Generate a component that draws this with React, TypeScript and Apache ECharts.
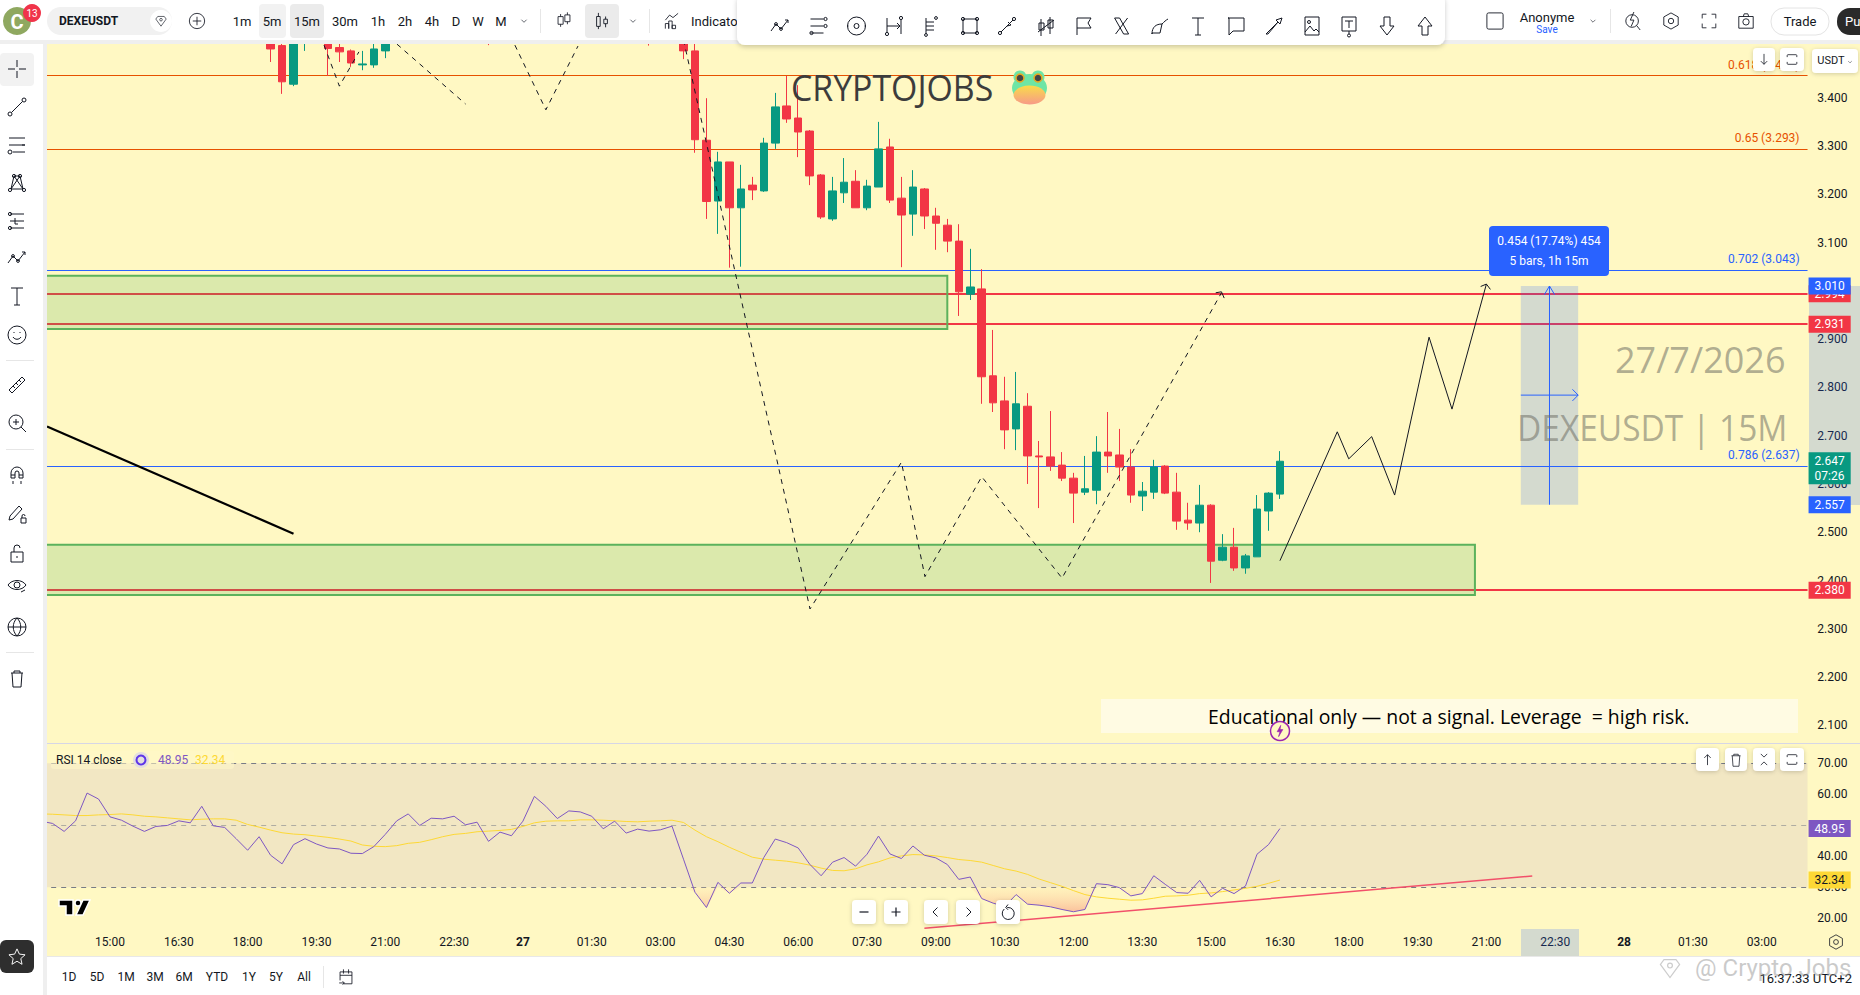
import React, { useEffect, useRef } from "react";
import * as echarts from "echarts";

// ---------- data ----------
const timeTicks = ["15:00","16:30","18:00","19:30","21:00","22:30","27","01:30","03:00","04:30","06:00","07:30","09:00","10:30","12:00","13:30","15:00","16:30","18:00","19:30","21:00","22:30","28","01:30","03:00"];
const yTicks = [3.4,3.3,3.2,3.1,2.9,2.8,2.7,2.6,2.5,2.4,2.3,2.2,2.1];
const rsiTicks = [70,60,40,30,20];

const barIdx = [14,15,16,17,19,20,21,22,23,24,33,47,50,51,52,53,54,55,56,57,58,59,60,61,62,63,64,65,66,67,68,69,70,71,72,73,74,75,76,77,78,79,80,81,82,83,84,85,86,87,88,89,90,91,92,93,94,95,96,97,98,99,100,101,102];
const opens = [3.55,3.508,3.428,3.53,3.54,3.504,3.497,3.468,3.468,3.497,3.55,3.55,3.55,3.497,3.312,3.186,3.267,3.172,3.219,3.207,3.306,3.383,3.358,3.331,3.24,3.149,3.203,3.227,3.172,3.215,3.298,3.192,3.159,3.211,3.155,3.136,3.103,2.993,3.004,2.824,2.772,2.714,2.761,2.658,2.656,2.639,2.612,2.583,2.587,2.666,2.66,2.635,2.575,2.583,2.637,2.583,2.525,2.519,2.556,2.442,2.469,2.426,2.449,2.544,2.579];
const closes = [3.501,3.433,3.52,3.56,3.502,3.495,3.472,3.47,3.501,3.53,3.53,3.53,3.497,3.313,3.185,3.267,3.172,3.211,3.209,3.306,3.381,3.356,3.329,3.238,3.153,3.207,3.225,3.172,3.217,3.294,3.188,3.157,3.215,3.155,3.14,3.103,2.998,3.008,2.822,2.768,2.712,2.766,2.658,2.656,2.637,2.612,2.581,2.59,2.666,2.658,2.635,2.577,2.585,2.635,2.581,2.523,2.519,2.556,2.44,2.469,2.426,2.451,2.548,2.581,2.647];
const lows = [3.474,3.408,3.424,3.497,3.445,3.474,3.464,3.457,3.462,3.482,3.509,3.508,3.48,3.286,3.149,3.118,3.048,3.05,3.188,3.205,3.294,3.348,3.277,3.219,3.149,3.145,3.182,3.172,3.167,3.215,3.182,3.049,3.114,3.128,3.085,3.08,2.948,2.981,2.766,2.749,2.672,2.67,2.6,2.55,2.627,2.606,2.519,2.577,2.558,2.623,2.606,2.561,2.544,2.569,2.579,2.505,2.505,2.5,2.395,2.44,2.42,2.414,2.449,2.503,2.569];
const highs = [3.58,3.56,3.56,3.58,3.56,3.53,3.5,3.497,3.54,3.55,3.57,3.57,3.56,3.55,3.399,3.288,3.267,3.261,3.236,3.317,3.41,3.445,3.426,3.333,3.242,3.236,3.275,3.25,3.23,3.35,3.315,3.236,3.25,3.213,3.172,3.149,3.138,3.087,3.045,2.919,2.822,2.832,2.788,2.689,2.751,2.666,2.623,2.658,2.699,2.749,2.714,2.672,2.604,2.65,2.639,2.623,2.561,2.598,2.558,2.496,2.509,2.455,2.577,2.583,2.668];

const rsiValues = [51.33,50.59,48.03,51.44,60.4,58.48,52.72,51.65,49.73,48.03,49.63,49.95,51.44,50.8,56.13,49.84,49.31,45.68,41.95,46.32,40.35,37.57,43.76,45.68,43.97,42.69,42.37,40.99,40.88,43.12,47.07,51.44,53.68,49.95,52.29,52.08,52.93,50.16,51.01,44.83,47.81,46.64,51.33,59.33,56.13,52.19,54.64,54.32,52.93,48.88,51.33,47.49,48.77,48.13,48.56,49.73,39.07,28.4,23.49,31.6,28.08,31.39,31.39,39.6,45.57,44.4,42.69,37.47,33.73,38.11,39.6,36.83,40.67,46.53,40.77,39.28,43.33,40.35,39.49,37.36,32.56,33.31,26.37,24.88,23.81,27.65,24.56,24.24,23.71,22.85,22.11,22.85,31.17,30.85,29.89,27.23,27.97,33.73,30.96,28.29,28.08,32.24,26.91,29.68,27.97,30.43,40.67,43.76,48.95];
const rsiSma = [53.68,53.57,53.36,53.15,53.15,53.36,53.47,53.68,53.36,52.93,52.72,52.4,52.08,51.76,51.97,52.08,52.08,51.65,50.27,49.41,48.45,47.6,47.17,46.96,46.53,46.11,45.57,44.93,43.65,43.23,43.12,43.44,44.19,44.51,45.36,46.32,47.07,47.39,47.92,48.13,48.35,48.67,49.63,50.8,51.33,51.44,51.44,51.76,51.76,51.65,51.44,51.23,51.12,51.33,51.44,51.65,50.91,48.45,46.32,44.72,42.91,41.31,39.71,39.07,38.75,38.43,37.89,37.15,36.19,35.44,35.33,35.97,37.25,38.21,39.49,40.13,40.56,40.45,40.13,39.6,38.96,38.64,38.11,37.04,35.97,35.23,34.16,32.67,31.49,30.32,28.93,27.65,26.91,26.48,26.16,25.84,25.95,26.48,27.12,27.23,27.44,27.97,28.19,28.61,29.15,29.68,30.32,31.28,32.34];

// drawings: [bar, price]
const dashA = [[18.66,3.509],[20,3.424],[21.7,3.495]];
const dashB = [[25.02,3.511],[31,3.387]];
const dashC = [[35.3,3.509],[38,3.375],[40.8,3.507]];
const dashMain = [[50,3.52],[61.03,2.341],[69,2.645],[71.05,2.408],[76,2.615],[83,2.405],[96.9,2.996]];
const dashHead = [[96.4,2.996],[96.9,2.998],[97.14,2.985]];
const solidPath = [[102,2.441],[107,2.708],[108,2.652],[110,2.698],[112,2.577],[115,2.904],[117,2.755],[120,3.014]];
const solidHead = [[119.5,3.009],[120,3.014],[120.35,3.003]];
const thickLine = [[-5.49,2.719],[16,2.497]];
const rsiTrend = [[77,16.77],[130,33.65]];
const fibLevels = [
  { text: "0.618 (3.446)", price: 3.446, color: "#E65100" },
  { text: "0.65 (3.293)", price: 3.293, color: "#E65100" },
  { text: "0.702 (3.043)", price: 3.043, color: "#2962FF" },
  { text: "0.786 (2.637)", price: 2.637, color: "#2962FF" },
];
const redLevels = [2.994, 2.931, 2.38];
const zones = [
  { x1: 73, top: 3.031, bottom: 2.921 },
  { x1: 119, top: 2.474, bottom: 2.37 },
];
const measure = { x0: 123, x1: 128, mid: 125.5, top: 3.01, bottom: 2.557, arrowY: 2.784 };

// ---------- layout ----------
const BARPX = 11.47;
const NCAT = 155;
const GRID_L = 110 - 6.5 * BARPX;
const GRID_W = NCAT * BARPX;
const FONT = "Roboto, sans-serif";
const X0 = -5.49;
const X1 = 148;

const categories: string[] = Array.from({ length: NCAT }, (_, i) => {
  const bar = i - 6;
  return bar >= 0 && bar % 6 === 0 && timeTicks[bar / 6] ? timeTicks[bar / 6] : "";
});

const circ = (x: number, y: number, r: number) =>
  `M${x - r} ${y}a${r} ${r} 0 1 0 ${2 * r} 0a${r} ${r} 0 1 0 ${-2 * r} 0`;

const ICONS: Record<string, string> = {
  cross: "M12 3v7M12 14v7M3 12h7M14 12h7",
  trend: "M6.5 17.5L17.5 6.5" + circ(5, 19, 2) + circ(19, 5, 2),
  lines: "M4 5h16M4 12h16M8 19h12M17 12h3" + circ(5, 19, 2),
  web: "M6 18L9 5L15 5L18 18M9 5L18 18M15 5L6 18M6 18H18" + circ(5, 19, 1.6) + circ(19, 19, 1.6) + circ(9, 5, 1.6) + circ(15, 5, 1.6),
  pitch: "M5 5h14M5 12h14M5 19h14M10 9v6h3" + circ(5, 5, 1.6) + circ(5, 19, 1.6),
  wave: "M3 17L8 10L13 15L20 6M17 6h3v3" + circ(8, 10, 1.4) + circ(13, 15, 1.4),
  text: "M12 4v17M6 4h12M9 21h6",
  smile: circ(12, 12, 9) + "M8 14c2 3 6 3 8 0M9 9v1M15 9v1",
  ruler: "M4 17L17 4L20 7L7 20ZM8 13l2 2M11 10l2 2M14 7l2 2",
  zoomi: circ(11, 11, 7) + "M16 16l5 5M11 8v6M8 11h6",
  magnet: "M6 15V10a6 6 0 0 1 12 0v5h-4V10a2 2 0 0 0-4 0v5ZM6 12h4M14 12h4M8 18v3M16 18v3",
  pencil: "M5 15L14 5L17 8L8 18L4 19ZM16 17h5v5h-5ZM17 17v-2a1.5 1.5 0 0 1 3 0",
  lock: "M6 11h12v10H6ZM9 11V7a3 3 0 0 1 6 0M12 15v2",
  eye: "M3 12c4-6 14-6 18 0c-4 6-14 6-18 0Z" + circ(12, 12, 3) + "M16 19l4-2",
  globe: circ(12, 12, 9) + "M3 12h18M12 3c-5 5-5 13 0 18M12 3c5 5 5 13 0 18",
  trash: "M6 7h12M9 7V5h6v2M7 7l1 14h8l1-14",
  star: "M12 4l2.5 5.5l6 .7l-4.5 4l1.3 6L12 17l-5.3 3.2l1.3-6l-4.5-4l6-.7Z",
  plusc: circ(12, 12, 9) + "M12 7v10M7 12h10",
  diamond: "M7 5h10l3 4l-8 11L4 9Z" + circ(12, 10, 2),
  candle1: "M8 5v3M8 17v3M5 8h6v9H5ZM16 3v3M16 14v3M13 6h6v8h-6Z",
  candle2: "M8 3v4M8 18v3M6 7h4v11H6ZM16 7v3M16 15v4M14 10h4v5h-4Z",
  bars: "M3 21v-6h4v6M7 21v-9h4v9M11 21v-4h4v4ZM3 11L8 5L12 8L18 3",
  chev: "M8 10l4 4l4-4",
  fibx: "M4 18L9 8L13 14L20 5" + circ(9, 8, 1.5) + circ(13, 14, 1.5),
  hl3: "M4 5h13M4 12h13M4 19h13" + circ(19, 5, 1.6) + circ(19, 12, 1.6) + circ(5, 19, 1.6),
  ring: circ(12, 12, 9) + circ(12, 12, 2.5) + "M3 12h1M20 12h1",
  meas: "M5 4v14M5 12h13M15 9l3 3l-3 3M19 6v14" + circ(5, 20, 1.6) + circ(19, 4, 1.6),
  fork: "M6 4v16M6 8h8M6 12h8M6 16h8" + circ(6, 21, 1.4) + circ(16, 4, 1.4),
  rect: "M5 5h14v14H5Z" + circ(5, 5, 1.6) + circ(19, 5, 1.6) + circ(5, 19, 1.6) + circ(19, 19, 1.6),
  brush: "M6 18L18 6" + circ(5, 19, 1.6) + circ(19, 5, 1.6) + "M12 12l4-1l-3-3",
  pattern: "M5 9h5v7H5ZM14 6h5v8h-5ZM7 5v17M16 3v17M4 18L20 6",
  flag: "M5 21V4h14l-3 5l3 5H5",
  xlogo: "M5 4h5l9 16h-5ZM18 4L6 20",
  leaf: "M4 20c0-7 4-10 10-10l-2 9H4ZM14 10c2-2 4-4 6-5",
  bubble: "M4 4h16v13H9l-4 4V4Z",
  arrowp: "M4 20L16 8l-2-2l6-2l-2 6l-2-2L6 20Z",
  picture: "M5 3h14v18H5ZM5 18l5-6l4 5l2-2l3 3" + circ(9, 8, 1.5),
  note: "M5 3h14v14H5ZM8 7h8M12 7v7M12 17v3" + circ(12, 21.5, 1.5),
  down: "M9 3h6v9h4l-7 9l-7-9h4Z",
  up: "M9 21h6v-9h4l-7-9l-7 9h4Z",
  flash: circ(11, 12, 7) + "M13 2l-4 9h4l-3 7M16 17l4 5",
  hexs: "M12 3l8 4.5v9L12 21l-8-4.5v-9Z" + circ(12, 12, 3),
  full: "M4 9V4h5M15 4h5v5M20 15v5h-5M9 20H4v-5",
  camera: "M4 7h16v13H4ZM9 7l1-3h4l1 3" + circ(12, 13, 3.5),
  checkbox: "M5 3h14a2 2 0 0 1 2 2v14a2 2 0 0 1-2 2H5a2 2 0 0 1-2-2V5a2 2 0 0 1 2-2Z",
  arrdown: "M12 5v13M8 14l4 4l4-4",
  arrup: "M12 19V6M8 10l4-4l4 4",
  square: "M6 9V7a1 1 0 0 1 1-1h10a1 1 0 0 1 1 1v2M6 15v2a1 1 0 0 0 1 1h10a1 1 0 0 0 1-1v-2",
  collapse: "M8 5l4 4l4-4M8 19l4-4l4 4",
  left: "M14 6l-6 6l6 6",
  right: "M10 6l6 6l-6 6",
  reset: "M7 8a8 8 0 1 0 5-2h-1M12 2L9 6l3 3",
  minus: "M6 12h12",
  plus: "M12 6v12M6 12h12",
  bolt: "M13 4l-5 9h4l-2 7l6-10h-4Z",
  calendar: "M5 6h14v14H9M5 6v10M5 10h14M9 3v5M15 3v5M4 19h6M8 17l2 2l-2 2",
  tvlogo: "M0 0H14V15H7V6H0Z" + circ(19, 3, 3) + "M24 0H31L24 15H17Z",
};
Object.keys(ICONS).forEach((k) => {
  echarts.graphic.registerShape("ic_" + k, echarts.graphic.extendPath(ICONS[k], {}) as any);
});

const icon = (name: string, cx: number, cy: number, s = 1, stroke = "#131722", fill = "none", z = 120, lw = 1) => ({
  type: "ic_" + name,
  x: cx - 12 * s,
  y: cy - 12 * s,
  scaleX: s,
  scaleY: s,
  z,
  silent: true,
  style: { stroke, fill, lineWidth: lw },
});
const txt = (text: string, x: number, y: number, size = 12, fill = "#131722", align = "center", weight = "normal", z = 120, family = FONT, scaleX = 1) => ({
  type: "text",
  x,
  y,
  z,
  scaleX,
  silent: true,
  style: { text, fill, fontSize: size, fontWeight: weight, fontFamily: family, textAlign: align, textVerticalAlign: "middle" },
});
const box = (x: number, y: number, w: number, h: number, fill: string, r = 0, z = 100, extra: any = {}) => ({
  type: "rect",
  z,
  silent: true,
  shape: { x, y, width: w, height: h, r },
  style: { fill, ...extra },
});
const btn = (x0: number, x1: number, y0: number, y1: number, z = 110) =>
  box(x0, y0, x1 - x0, y1 - y0, "#ffffff", 4, z, { shadowBlur: 4, shadowColor: "rgba(0,0,0,0.18)", shadowOffsetY: 1 });

// horizontal levels & tags
const tagLabel = (text: string, bg: string, color = "#ffffff", extra: any = {}) => ({
  show: true,
  position: "end",
  distance: 1,
  formatter: text,
  color,
  backgroundColor: bg,
  fontFamily: FONT,
  fontSize: 12,
  padding: [2, 6],
  lineHeight: 13,
  align: "left",
  ...extra,
});
const hLine = (price: number, color: string, width: number, z: number, label: any = { show: false }, xa = 1, ya = 0, x0 = X0, x1 = X1, hidden = false) => ({
  type: "line",
  xAxisIndex: xa,
  yAxisIndex: ya,
  data: [],
  silent: true,
  markLine: {
    silent: true,
    symbol: "none",
    z,
    animation: false,
    label,
    emphasis: { disabled: true },
    lineStyle: { color: hidden ? "rgba(0,0,0,0)" : color, width: hidden ? 1 : width, type: "solid" },
    data: [[{ coord: [x0, price] }, { coord: [x1, price] }]],
  },
});
const drawing = (data: number[][], color = "#131722", width = 1, dashed = false, z = 6) => ({
  type: "line",
  xAxisIndex: 1,
  yAxisIndex: 0,
  data,
  z,
  silent: true,
  symbol: "none",
  clip: true,
  lineStyle: { color, width, type: dashed ? [5, 5] : "solid" },
});

function buildOption(): any {
  const candles = barIdx.map((b, i) => [b + 6, opens[i], closes[i], lows[i], highs[i]]);
  const rsiClamped = rsiValues.map((v) => Math.min(v, 30));

  const series: any[] = [
    ...fibLevels.map((f) =>
      hLine(f.price, f.color, 1, 2, {
        show: true,
        position: "insideEndTop",
        distance: [8, 5],
        formatter: f.text,
        color: f.color,
        fontFamily: FONT,
        fontSize: 12,
      })
    ),
    ...redLevels.map((p) => hLine(p, "#F23645", 2, 2, tagLabel(p.toFixed(3), "#F23645"))),
    {
      type: "line",
      xAxisIndex: 1,
      yAxisIndex: 0,
      data: [],
      silent: true,
      markArea: {
        silent: true,
        z: 3,
        animation: false,
        itemStyle: { color: "rgba(76,175,80,0.2)", borderColor: "#5CB25C", borderWidth: 2 },
        data: zones.map((zn) => [{ coord: [-9, zn.top] }, { coord: [zn.x1, zn.bottom] }]),
      },
    },
    {
      type: "line",
      xAxisIndex: 1,
      yAxisIndex: 0,
      data: [],
      silent: true,
      markArea: {
        silent: true,
        z: 3,
        animation: false,
        itemStyle: { color: "rgba(41,98,255,0.2)" },
        data: [[{ coord: [measure.x0, measure.top] }, { coord: [measure.x1, measure.bottom] }]],
      },
    },
    {
      type: "candlestick",
      xAxisIndex: 0,
      yAxisIndex: 0,
      z: 4,
      silent: true,
      clip: true,
      barWidth: 8,
      data: candles,
      encode: { x: 0, y: [1, 2, 3, 4] },
      itemStyle: { color: "#089981", color0: "#F23645", borderColor: "#089981", borderColor0: "#F23645", borderWidth: 1 },
    },
    drawing(dashA, "#131722", 1, true),
    drawing(dashB, "#131722", 1, true),
    drawing(dashC, "#131722", 1, true),
    drawing(dashMain, "#131722", 1, true),
    drawing(dashHead, "#131722", 1),
    drawing(solidPath, "#131722", 1),
    drawing(solidHead, "#131722", 1),
    drawing(thickLine, "#000000", 2.2),
    drawing([[measure.mid, measure.bottom], [measure.mid, measure.top]], "#2962FF", 1),
    drawing([[measure.mid - 0.45, measure.top - 0.018], [measure.mid, measure.top], [measure.mid + 0.45, measure.top - 0.018]], "#2962FF", 1),
    drawing([[measure.x0, measure.arrowY], [measure.x1, measure.arrowY]], "#2962FF", 1),
    drawing([[measure.x1 - 0.5, measure.arrowY + 0.012], [measure.x1, measure.arrowY], [measure.x1 - 0.5, measure.arrowY - 0.012]], "#2962FF", 1),
    hLine(3.01, "#2962FF", 0, 14, tagLabel("3.010", "#2962FF"), 1, 0, 147, X1, true),
    hLine(2.557, "#2962FF", 0, 14, tagLabel("2.557", "#2962FF"), 1, 0, 147, X1, true),
    hLine(2.647, "#089981", 0, 15, tagLabel("2.647\n07:26", "#089981", "#ffffff", { lineHeight: 15, padding: [1, 6], offset: [0, 7] }), 1, 0, 147, X1, true),
    // RSI pane
    {
      type: "line",
      xAxisIndex: 2,
      yAxisIndex: 1,
      data: rsiClamped,
      silent: true,
      symbol: "none",
      z: 2,
      lineStyle: { width: 0 },
      areaStyle: {
        origin: 30,
        color: new echarts.graphic.LinearGradient(0, 0, 0, 1, [
          { offset: 0, color: "rgba(255,225,170,0.35)" },
          { offset: 1, color: "rgba(247,150,125,0.8)" },
        ]),
      },
    },
    {
      type: "line",
      xAxisIndex: 2,
      yAxisIndex: 1,
      data: rsiSma,
      silent: true,
      symbol: "none",
      z: 3,
      lineStyle: { color: "#FDD835", width: 1 },
    },
    {
      type: "line",
      xAxisIndex: 2,
      yAxisIndex: 1,
      data: rsiValues,
      silent: true,
      symbol: "none",
      z: 4,
      lineStyle: { color: "#7E57C2", width: 1 },
    },
    {
      type: "line",
      xAxisIndex: 2,
      yAxisIndex: 1,
      data: [],
      silent: true,
      markArea: {
        silent: true,
        z: 1,
        animation: false,
        itemStyle: { color: "#F2E7C3" },
        data: [[{ coord: [0, 70] }, { coord: [154, 30] }]],
      },
      markLine: {
        silent: true,
        symbol: "none",
        z: 2,
        animation: false,
        label: { show: false },
        data: [
          [{ coord: [0, 70], lineStyle: { color: "#787B86", width: 1, type: [5, 5] } }, { coord: [154, 70] }],
          [{ coord: [0, 50], lineStyle: { color: "rgba(120,123,134,0.55)", width: 1, type: [5, 5] } }, { coord: [154, 50] }],
          [{ coord: [0, 30], lineStyle: { color: "#787B86", width: 1, type: [5, 5] } }, { coord: [154, 30] }],
        ],
      },
    },
    {
      type: "line",
      xAxisIndex: 2,
      yAxisIndex: 1,
      data: rsiTrend,
      silent: true,
      symbol: "none",
      z: 5,
      lineStyle: { color: "#F2506A", width: 1.5 },
    },
    hLine(48.95, "#7E57C2", 0, 14, tagLabel("48.95", "#7E57C2"), 2, 1, 153, 154, true),
    hLine(32.34, "#FDD835", 0, 14, tagLabel("32.34", "#FDD835", "#131722"), 2, 1, 153, 154, true),
  ];

  const frogZ = 8;
  const OS = "'Open Sans', sans-serif";
  const graphic: any[] = [
    // axis highlight strips
    box(1809, 286, 51, 219, "rgba(41,98,255,0.2)", 0, 1),
    box(1521, 929, 58, 28, "rgba(41,98,255,0.2)", 0, 1),
    // overlay texts
    txt("CRYPTOJOBS", 791, 87, 36, "#3C3C3C", "left", "normal", 8, OS, 0.94),
    txt("27/7/2026", 1615, 359, 36, "rgba(110,110,100,0.55)", "left", "normal", 8, OS),
    txt("DEXEUSDT | 15M", 1517, 427, 36, "rgba(110,110,100,0.55)", "left", "normal", 8, OS, 0.93),
    // frog
    { type: "circle", z: frogZ, silent: true, shape: { cx: 1020, cy: 77, r: 6.5 }, style: { fill: "#6EE5A5" } },
    { type: "circle", z: frogZ, silent: true, shape: { cx: 1038, cy: 77, r: 6.5 }, style: { fill: "#6EE5A5" } },
    { type: "ellipse", z: frogZ, silent: true, shape: { cx: 1029.5, cy: 88, rx: 17.5, ry: 14 }, style: { fill: "#6EE5A5" } },
    { type: "ellipse", z: frogZ, silent: true, shape: { cx: 1029.5, cy: 95, rx: 16, ry: 9.5 }, style: { fill: new echarts.graphic.LinearGradient(0, 0, 0, 1, [{ offset: 0, color: "#F9DC4A" }, { offset: 1, color: "#F79A88" }]) } },
    { type: "circle", z: frogZ, silent: true, shape: { cx: 1020, cy: 78, r: 4 }, style: { fill: "#454545", stroke: "#E9A820", lineWidth: 1.5 } },
    { type: "circle", z: frogZ, silent: true, shape: { cx: 1038, cy: 78, r: 4 }, style: { fill: "#454545", stroke: "#E9A820", lineWidth: 1.5 } },
    // measure label
    box(1489, 226, 120, 50, "#2962FF", 4, 9),
    txt("0.454 (17.74%) 454", 1549, 241, 12, "#ffffff", "center", "normal", 10),
    txt("5 bars, 1h 15m", 1549, 261, 12, "#ffffff", "center", "normal", 10),
    // education banner
    box(1101, 699, 697, 34, "#FFFBE3", 0, 8),
    txt("Educational only — not a signal. Leverage  = high risk.", 1208, 716, 19.4, "#000000", "left", "normal", 9, OS),
    { type: "circle", z: 10, silent: true, shape: { cx: 1280, cy: 731, r: 9.5 }, style: { fill: "#FFF8C3", stroke: "#9C27B0", lineWidth: 1.5 } },
    icon("bolt", 1280, 731, 0.7, "#9C27B0", "#9C27B0", 11),
    // panes separators
    box(47, 743, 1813, 1, "#D6D6E6", 0, 20),
    // buttons in main pane
    btn(1753, 1775, 48, 71),
    btn(1780, 1804, 48, 71),
    btn(1812, 1858, 49, 73),
    icon("arrdown", 1764, 59.5, 0.8),
    icon("square", 1792, 59.5, 0.8),
    txt("USDT", 1831, 60, 11),
    icon("chev", 1850, 62, 0.45),
    // rsi legend
    box(51, 751, 183, 18, "rgba(255,248,200,0.55)", 3, 20),
    txt("RSI 14 close", 56, 760, 12, "#131722", "left", "normal", 21),
    { type: "circle", z: 21, silent: true, shape: { cx: 141, cy: 760, r: 8 }, style: { fill: "#E3DEDF" } },
    { type: "circle", z: 22, silent: true, shape: { cx: 141, cy: 760, r: 4.5 }, style: { fill: "none", stroke: "#5E35E8", lineWidth: 2 } },
    txt("48.95", 158, 760, 12, "#7E57C2", "left", "normal", 21),
    txt("32.34", 195, 760, 12, "#FDD835", "left", "normal", 21),
    btn(1696, 1719, 748, 771),
    btn(1725, 1747, 748, 771),
    btn(1753, 1775, 748, 771),
    btn(1780, 1804, 748, 771),
    icon("arrup", 1707.5, 759.5, 0.8),
    icon("trash", 1736, 759.5, 0.75),
    icon("collapse", 1764, 759.5, 0.8),
    icon("square", 1792, 759.5, 0.8),
    // nav buttons
    btn(852, 876, 900, 924),
    btn(884, 908, 900, 924),
    btn(924, 948, 900, 924),
    btn(956, 980, 900, 924),
    btn(996, 1020, 900, 924),
    icon("minus", 864, 912, 0.75, "#131722", "none", 120, 1.6),
    icon("plus", 896, 912, 0.75, "#131722", "none", 120, 1.6),
    icon("left", 936, 912, 0.75, "#131722", "none", 120, 1.3),
    icon("right", 968, 912, 0.75, "#131722", "none", 120, 1.3),
    icon("reset", 1008, 912, 0.75, "#131722", "none", 120, 1.3),
    // TV logo
    { type: "ic_tvlogo", x: 59, y: 900, z: 30, silent: true, style: { fill: "#000000", stroke: "#ffffff", lineWidth: 1.5 } },
    // axis settings icon
    icon("hexs", 1836, 942, 0.8),

    // top bar
    box(0, 0, 1860, 40, "#ffffff", 0, 100),
    box(0, 40, 1860, 4, "#EFEFEF", 0, 100),
    // left bar
    box(0, 44, 43, 951, "#ffffff", 0, 100),
    box(43, 44, 4, 951, "#EFEFEF", 0, 100),
    // bottom bar
    box(47, 957, 1813, 38, "#ffffff", 0, 100),
    box(47, 956, 1813, 1, "#E8E8E8", 0, 101),
    // avatar
    { type: "circle", z: 110, silent: true, shape: { cx: 17, cy: 21, r: 14 }, style: { fill: "#8FA860" } },
    txt("C", 17, 22, 20, "#ffffff", "center", "bold"),
    { type: "circle", z: 115, silent: true, shape: { cx: 32, cy: 13, r: 9 }, style: { fill: "#F0344A" } },
    txt("13", 32, 13, 10, "#ffffff", "center", "normal", 116),
    // symbol pill
    box(47, 7, 125, 28, "#F1F1F1", 14, 105),
    { type: "circle", z: 106, silent: true, shape: { cx: 161, cy: 21, r: 11 }, style: { fill: "#ffffff" } },
    txt("DEXEUSDT", 59, 21, 12, "#131722", "left", "bold"),
    icon("diamond", 161, 21, 0.65),
    icon("plusc", 197, 21, 0.85),
    // intervals
    box(259, 4, 27, 34, "#F2F2F2", 4, 105),
    box(290, 4, 34, 34, "#EBEBEB", 4, 105),
    txt("1m", 242, 21, 13),
    txt("5m", 272, 21, 13),
    txt("15m", 307, 21, 13),
    txt("30m", 345, 21, 13),
    txt("1h", 378, 21, 13),
    txt("2h", 405, 21, 13),
    txt("4h", 432, 21, 13),
    txt("D", 456, 21, 13),
    txt("W", 478, 21, 13),
    txt("M", 501, 21, 13),
    icon("chev", 524, 21, 0.65),
    box(540, 9, 1, 24, "#E6E6E6", 0, 105),
    icon("candle1", 564, 20, 0.85),
    box(585, 4, 34, 34, "#EBEBEB", 4, 105),
    icon("candle2", 602, 21, 0.9),
    icon("chev", 633, 21, 0.65),
    box(649, 9, 1, 24, "#E6E6E6", 0, 105),
    icon("bars", 673, 21, 0.85),
    txt("Indicators", 691, 21, 13, "#131722", "left"),
    // floating toolbar
    box(737, -6, 708, 51, "#ffffff", 8, 125, { shadowBlur: 5, shadowColor: "rgba(0,0,0,0.2)", shadowOffsetY: 2 }),
    ...[
      ["wave", 780],["hl3", 818.5],["ring", 856.5],["meas", 894],["fork", 932],["rect", 970],["brush", 1007],["pattern", 1046],
      ["flag", 1084],["xlogo", 1121.6],["leaf", 1160],["text", 1198],["bubble", 1236],["arrowp", 1274],["picture", 1312],["note", 1349],["down", 1387],["up", 1425],
    ].map(([n, x]) => icon(n as string, x as number, 26, 1, "#131722", "none", 130)),
    // right top
    icon("checkbox", 1495, 21, 0.9),
    txt("Anonyme", 1547, 17, 13),
    txt("Save", 1547, 29, 10, "#2962FF"),
    icon("chev", 1593, 21, 0.6),
    box(1610, 9, 1, 24, "#E6E6E6", 0, 105),
    icon("flash", 1633, 21, 0.9),
    icon("hexs", 1671, 21, 0.9),
    icon("full", 1709, 21, 0.85),
    icon("camera", 1746, 21, 0.9),
    { type: "rect", z: 110, silent: true, shape: { x: 1771, y: 8, width: 58, height: 27, r: 13 }, style: { fill: "#ffffff", stroke: "#E4E4E4", lineWidth: 1 } },
    txt("Trade", 1800, 21.5, 13),
    box(1837, 8, 40, 27, "#2A2A2A", 13, 110),
    txt("Pu", 1845, 21.5, 13, "#ffffff", "left"),
    // left toolbar icons
    box(0, 53, 34, 33, "#F2F2F2", 4, 105),
    ...[
      ["cross", 69],["trend", 107],["lines", 145],["web", 183],["pitch", 221],["wave", 258],["text", 296],["smile", 335],
      ["ruler", 385],["zoomi", 423],["magnet", 475],["pencil", 513],["lock", 553],["eye", 585],["globe", 627],["trash", 678],
    ].map(([n, y]) => icon(n as string, 17, y as number, 1)),
    box(6, 360, 28, 1, "#E6E6E6", 0, 105),
    box(6, 449, 28, 1, "#E6E6E6", 0, 105),
    box(6, 652, 28, 1, "#E6E6E6", 0, 105),
    box(0, 940, 34, 33, "#2E2E2E", 6, 105),
    icon("star", 17, 956.5, 0.95, "#ffffff"),
    // bottom bar
    txt("1D", 69, 977, 12),
    txt("5D", 97, 977, 12),
    txt("1M", 126, 977, 12),
    txt("3M", 155, 977, 12),
    txt("6M", 184, 977, 12),
    txt("YTD", 217, 977, 12),
    txt("1Y", 249, 977, 12),
    txt("5Y", 276, 977, 12),
    txt("All", 304, 977, 12),
    box(323, 966, 1, 22, "#E6E6E6", 0, 105),
    icon("calendar", 346, 977, 0.85),
    txt("16:37:33 UTC+2", 1852, 978, 13, "#131722", "right"),
    txt("@ Crypto Jobs", 1695, 968, 24, "rgba(150,150,150,0.5)", "left", "normal", 121),
    icon("diamond", 1670, 968, 1.2, "rgba(170,170,170,0.6)", "none", 121),
  ];

  return {
    animation: false,
    backgroundColor: "#FFF8C3",
    tooltip: { show: false },
    legend: { show: false },
    grid: [
      { left: GRID_L, top: 44, width: GRID_W, height: 699 },
      { left: GRID_L, top: 743, width: GRID_W, height: 186 },
    ],
    xAxis: [
      { type: "category", gridIndex: 0, data: categories, show: false, boundaryGap: true },
      { type: "value", gridIndex: 0, min: -6.5, max: NCAT - 6.5, show: false, splitLine: { show: false } },
      {
        type: "category",
        gridIndex: 1,
        data: categories,
        boundaryGap: true,
        axisLine: { show: false },
        axisTick: { show: false },
        splitLine: { show: false },
        axisLabel: {
          interval: (i: number) => categories[i] !== "",
          hideOverlap: false,
          margin: 7,
          color: "#131722",
          fontFamily: FONT,
          fontSize: 12,
          formatter: (v: string) => (v === "27" || v === "28" ? `{d|${v}}` : v),
          rich: { d: { fontWeight: "bold", fontSize: 12, color: "#131722", fontFamily: FONT } },
        },
      },
    ],
    yAxis: [
      {
        type: "value",
        gridIndex: 0,
        position: "right",
        min: 2.0634,
        max: 3.5113,
        scale: true,
        splitLine: { show: false },
        axisLine: { show: false },
        axisTick: { show: false },
        axisLabel: {
          customValues: yTicks,
          align: "left",
          margin: 4,
          color: "#131722",
          fontFamily: FONT,
          fontSize: 12,
          formatter: (v: number) => v.toFixed(3),
        },
      },
      {
        type: "value",
        gridIndex: 1,
        position: "right",
        min: 16.55,
        max: 76.55,
        scale: true,
        splitLine: { show: false },
        axisLine: { show: false },
        axisTick: { show: false },
        axisLabel: {
          customValues: rsiTicks,
          align: "left",
          margin: 4,
          color: "#131722",
          fontFamily: FONT,
          fontSize: 12,
          formatter: (v: number) => v.toFixed(2),
        },
      },
    ],
    series,
    graphic: { elements: graphic },
  };
}

export default function App() {
  const ref = useRef<HTMLDivElement>(null);
  useEffect(() => {
    document.body.style.margin = "0";
    const chart = echarts.init(ref.current!, undefined, { renderer: "svg" });
    chart.setOption(buildOption());
    return () => chart.dispose();
  }, []);
  return <div ref={ref} style={{ position: "absolute", left: 0, top: 0, width: 1860, height: 995, overflow: "hidden" }} />;
}
